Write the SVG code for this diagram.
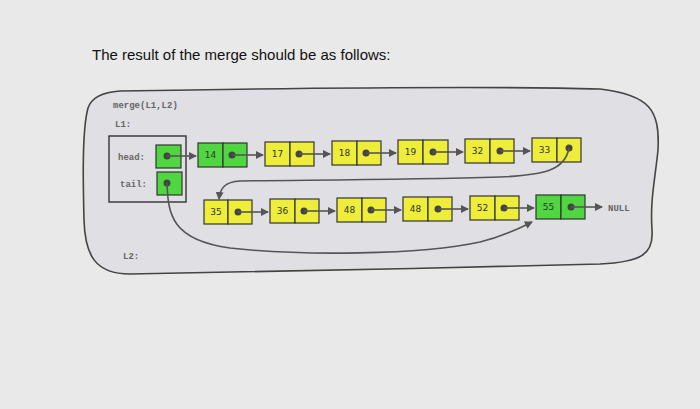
<svg xmlns="http://www.w3.org/2000/svg" width="700" height="409" viewBox="0 0 700 409">
<defs>
<marker id="ah" markerWidth="8" markerHeight="8" refX="7" refY="4" orient="auto" markerUnits="userSpaceOnUse"><path d="M0,0 L8,4 L0,8 z" fill="#555"/></marker>
<style>
.y{fill:#eded3a;stroke:#333;stroke-width:1.2}
.g{fill:#4fd640;stroke:#333;stroke-width:1.2}
.n{font-family:"DejaVu Sans",sans-serif;font-size:9px;fill:#333;text-anchor:middle}
.m{font-family:"Liberation Mono",monospace;font-size:9px;fill:#666;font-weight:bold}
.d{fill:#444}
.c{fill:none;stroke:#555;stroke-width:1.6}
</style>
</defs>
<rect width="700" height="409" fill="#e9e9e9"/>
<text x="92" y="60" font-family="Liberation Sans,sans-serif" font-size="15" fill="#111">The result of the merge should be as follows:</text>
<path d="M120,91 C300,88 500,86 600,89 C650,95 660,110 658,150 C655,180 650,200 652,230 C654,255 640,262 600,264 C450,268 250,272 130,274 C95,274 85,255 84,220 C83,180 82,130 88,108 C92,96 105,92 120,91 Z" fill="#e0dfe3" stroke="#444" stroke-width="1.6"/>
<text class="m" x="113" y="108">merge(L1,L2)</text>
<text class="m" x="115" y="127">L1:</text>
<text class="m" x="123" y="259">L2:</text>
<g id="box"><rect x="109" y="136" width="77" height="66" fill="none" stroke="#333" stroke-width="1.4"/>
<text class="m" x="118" y="160">head:</text><text class="m" x="120" y="187">tail:</text>
<rect class="g" x="156" y="145" width="25" height="23"/><circle class="d" cx="167" cy="156" r="3.5"/>
<rect class="g" x="157" y="172" width="25" height="23"/><circle class="d" cx="167" cy="183" r="3.5"/></g>
<g id="n14"><rect class="g" x="198" y="143" width="25" height="24"/><rect class="g" x="223" y="143" width="24" height="24"/><text class="n" x="210.5" y="158">14</text><circle class="d" cx="232" cy="155" r="3.5"/></g>
<g id="n17"><rect class="y" x="265" y="142" width="25" height="24"/><rect class="y" x="290" y="142" width="24" height="24"/><text class="n" x="277.5" y="157">17</text><circle class="d" cx="299" cy="154" r="3.5"/></g>
<g id="n18"><rect class="y" x="332" y="141" width="25" height="24"/><rect class="y" x="357" y="141" width="24" height="24"/><text class="n" x="344.5" y="156">18</text><circle class="d" cx="366" cy="153" r="3.5"/></g>
<g id="n19"><rect class="y" x="398" y="140" width="25" height="24"/><rect class="y" x="423" y="140" width="25" height="24"/><text class="n" x="410.5" y="155">19</text><circle class="d" cx="433" cy="152" r="3.5"/></g>
<g id="n32"><rect class="y" x="465" y="139" width="25" height="24"/><rect class="y" x="490" y="139" width="24" height="24"/><text class="n" x="477.5" y="154">32</text><circle class="d" cx="500" cy="151" r="3.5"/></g>
<g id="n33"><rect class="y" x="532" y="138" width="25" height="24"/><rect class="y" x="557" y="138" width="24" height="24"/><text class="n" x="544.5" y="153">33</text><circle class="d" cx="569" cy="148" r="3.5"/></g>
<g id="n35"><rect class="y" x="204" y="200" width="24" height="24"/><rect class="y" x="228" y="200" width="24" height="24"/><text class="n" x="216" y="215">35</text><circle class="d" cx="238" cy="212" r="3.5"/></g>
<g id="n36"><rect class="y" x="270" y="199" width="25" height="24"/><rect class="y" x="295" y="199" width="24" height="24"/><text class="n" x="282.5" y="214">36</text><circle class="d" cx="304" cy="211" r="3.5"/></g>
<g id="n48a"><rect class="y" x="337" y="198" width="25" height="24"/><rect class="y" x="362" y="198" width="24" height="24"/><text class="n" x="349.5" y="213">48</text><circle class="d" cx="371" cy="210" r="3.5"/></g>
<g id="n48b"><rect class="y" x="403" y="197" width="25" height="24"/><rect class="y" x="428" y="197" width="24" height="24"/><text class="n" x="415.5" y="212">48</text><circle class="d" cx="438" cy="209" r="3.5"/></g>
<g id="n52"><rect class="y" x="470" y="196" width="25" height="24"/><rect class="y" x="495" y="196" width="24" height="24"/><text class="n" x="482.5" y="211">52</text><circle class="d" cx="504" cy="208" r="3.5"/></g>
<g id="n55"><rect class="g" x="536" y="195" width="25" height="24"/><rect class="g" x="561" y="195" width="24" height="24"/><text class="n" x="548.5" y="210">55</text><circle class="d" cx="571" cy="207" r="3.5"/></g>
<text class="m" x="608" y="211" font-size="8">NULL</text>
<g id="connectors">
<path class="c" d="M167,156 H196" marker-end="url(#ah)"/>
<path class="c" d="M232,155 H263" marker-end="url(#ah)"/>
<path class="c" d="M299,154 H330" marker-end="url(#ah)"/>
<path class="c" d="M366,153 H396" marker-end="url(#ah)"/>
<path class="c" d="M433,152 H463" marker-end="url(#ah)"/>
<path class="c" d="M500,151 H530" marker-end="url(#ah)"/>
<path class="c" d="M238,212 H268" marker-end="url(#ah)"/>
<path class="c" d="M304,211 H335" marker-end="url(#ah)"/>
<path class="c" d="M371,210 H401" marker-end="url(#ah)"/>
<path class="c" d="M438,209 H468" marker-end="url(#ah)"/>
<path class="c" d="M504,208 H534" marker-end="url(#ah)"/>
<path class="c" d="M571,207 H602" marker-end="url(#ah)"/>
<path class="c" d="M569,148 C565,170 545,175 500,177 C400,180 300,180 240,181 C225,182 220,188 219,199" marker-end="url(#ah)"/>
<path class="c" d="M167,183 C168,215 172,240 230,248 C300,256 420,255 480,242 C505,236 520,228 532,222" marker-end="url(#ah)"/>
</g>
</svg>
